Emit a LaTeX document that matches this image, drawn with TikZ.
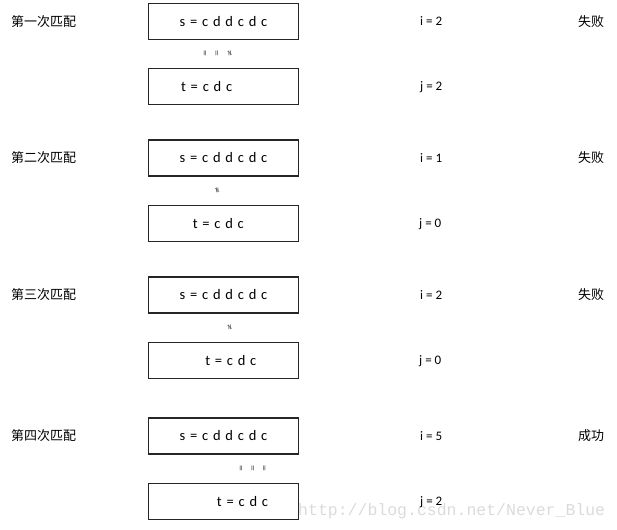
\documentclass[tikz,border=0pt]{standalone}
\usepackage{fontspec}
\setmainfont{Carlito}
\newfontfamily\cjk{Noto Sans CJK SC}
\newfontfamily\wmfont{Liberation Mono}
\newfontfamily\symfont{DejaVu Sans}
\usetikzlibrary{positioning}

\begin{document}
\begin{tikzpicture}[x=1pt, y=-1pt, node distance=28pt]
      \tikzset{
	  strbox/.style={rectangle, draw=black!85, line width=1.2pt, minimum width=150pt, minimum height=36pt, inner sep=0pt, font={\fontsize{14.5}{16}\selectfont\spaceskip=0.33em}},
	  strtext/.style={anchor=base west, inner sep=0pt, font={\fontsize{14.5}{16}\selectfont\spaceskip=0.33em}},
	  rowname/.style={anchor=west, inner sep=0pt, font=\cjk\fontsize{13}{15}\selectfont},
	  idx/.style={anchor=west, inner sep=0pt, font=\fontsize{13}{15}\selectfont},
	  cmp/.style={inner sep=0pt, rotate=90, text=black!75, font=\symfont\fontsize{7.5}{9}\selectfont}
      }
      \useasboundingbox (0,0) rectangle (617,529);

      % watermark
      \node[anchor=base west, inner sep=0pt, text=black!14, font=\wmfont\fontsize{16.5}{18}\selectfont] (wm) at (298,515) {http://blog.csdn.net/Never\_Blue};

      % first try
      \node[rowname] (r1) at (11,21.5) {第一次匹配};
      \node[strbox] (s1) at (223.5,21.5) {s = c d d c d c};
      \node[strbox, below=of s1] (t1) {};
      \node[strtext, xshift=-42.6pt, yshift=-5pt] (t1text) at (t1.center) {t = c d c};
      \node[cmp] (m11) at (205.7,53) {=};
      \node[cmp] (m12) at (217.4,53) {=};
      \node[cmp] (m13) at (229.9,53) {≠};
      \node[idx] (i1) at (420,21.5) {i = 2};
      \node[idx] (j1) at (420,87) {j = 2};
      \node[rowname] (res1) at (578,21.5) {失败};

      % second try
      \node[rowname] (r2) at (11,158) {第二次匹配};
      \node[strbox] (s2) at (223.5,158) {s = c d d c d c};
      \node[strbox, below=of s2] (t2) {};
      \node[strtext, xshift=-30.95pt, yshift=-5pt] (t2text) at (t2.center) {t = c d c};
      \node[cmp] (m21) at (217.4,190) {≠};
      \node[idx] (i2) at (420,158) {i = 1};
      \node[idx] (j2) at (419,224) {j = 0};
      \node[rowname] (res2) at (578,158) {失败};

      % third try
      \node[rowname] (r3) at (11,295) {第三次匹配};
      \node[strbox] (s3) at (223.5,295) {s = c d d c d c};
      \node[strbox, below=of s3] (t3) {};
      \node[strtext, xshift=-18.45pt, yshift=-5pt] (t3text) at (t3.center) {t = c d c};
      \node[cmp] (m31) at (229.9,327) {≠};
      \node[idx] (i3) at (420,295) {i = 2};
      \node[idx] (j3) at (419,361) {j = 0};
      \node[rowname] (res3) at (578,295) {失败};

      % fourth try
      \node[rowname] (r4) at (11,436) {第四次匹配};
      \node[strbox] (s4) at (223.5,436) {s = c d d c d c};
      \node[strbox, below=of s4] (t4) {};
      \node[strtext, xshift=-6.75pt, yshift=-5pt] (t4text) at (t4.center) {t = c d c};
      \node[cmp] (m41) at (241.6,468) {=};
      \node[cmp] (m42) at (253.3,468) {=};
      \node[cmp] (m43) at (265,468) {=};
      \node[idx] (i4) at (420,436) {i = 5};
      \node[idx] (j4) at (420,502) {j = 2};
      \node[rowname] (res4) at (578,436) {成功};
\end{tikzpicture}
\end{document}
